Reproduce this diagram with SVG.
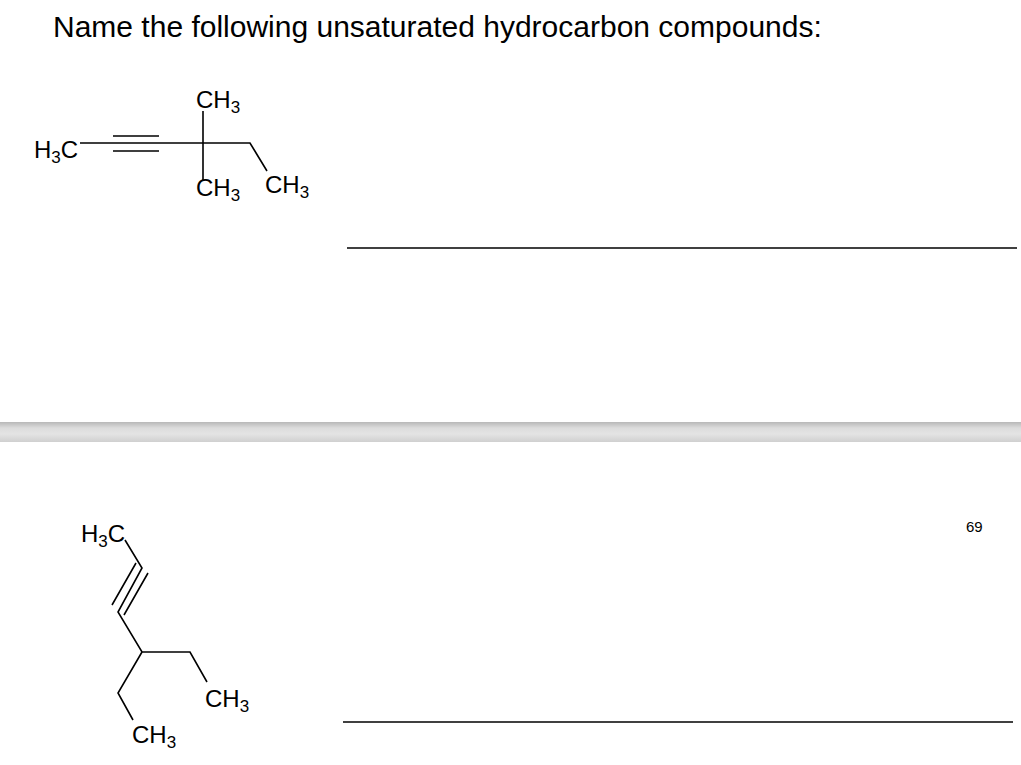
<svg xmlns="http://www.w3.org/2000/svg" width="1021" height="765" viewBox="0 0 1021 765">
<defs>
<style>
text{font-family:"Liberation Sans",Arial,sans-serif;fill:#000}
.lbl{font-size:24px}
.sub{font-size:17px}
.b{stroke:#000;stroke-width:1.6;fill:none}
</style>
<linearGradient id="band" x1="0" y1="0" x2="0" y2="1">
<stop offset="0" stop-color="#b8b8b8"/><stop offset="0.3" stop-color="#dcdcdc"/><stop offset="0.6" stop-color="#e4e4e4"/><stop offset="1" stop-color="#d0d0d0"/>
</linearGradient>
</defs>
<rect width="1021" height="765" fill="#fff"/>
<text x="53" y="37" style="font-size:30px">Name the following unsaturated hydrocarbon compounds:</text>
<rect x="0" y="422" width="1021" height="20" fill="url(#band)"/>
<g id="connectors">
<path class="b" d="M80 143H203M113 136H159M113 151H159M203 111V180M203 143H250L267 171"/>
<path class="b" d="M125 540L142 568L118 612L142 652H190L207 682M142 652L118 693L133 720M136 563L112 605M148 573L124 615"/>
<line x1="347" y1="248" x2="1017" y2="248" stroke="#000" stroke-width="1.3"/>
<line x1="343" y1="722" x2="1013" y2="722" stroke="#000" stroke-width="1.3"/>
</g>
<g id="mol1">
<text class="lbl" x="34" y="158">H<tspan class="sub" dy="5">3</tspan><tspan dy="-5">C</tspan></text>
<text class="lbl" x="196" y="108">CH<tspan class="sub" dy="5">3</tspan></text>
<text class="lbl" x="196" y="196">CH<tspan class="sub" dy="5">3</tspan></text>
<text class="lbl" x="265" y="193">CH<tspan class="sub" dy="5">3</tspan></text>
</g>
<g id="mol2">
<text class="lbl" x="81" y="542">H<tspan class="sub" dy="5">3</tspan><tspan dy="-5">C</tspan></text>
<text class="lbl" x="205" y="707">CH<tspan class="sub" dy="5">3</tspan></text>
<text class="lbl" x="132" y="743">CH<tspan class="sub" dy="5">3</tspan></text>
</g>
<text x="966" y="532" style="font-size:15px">69</text>
</svg>
